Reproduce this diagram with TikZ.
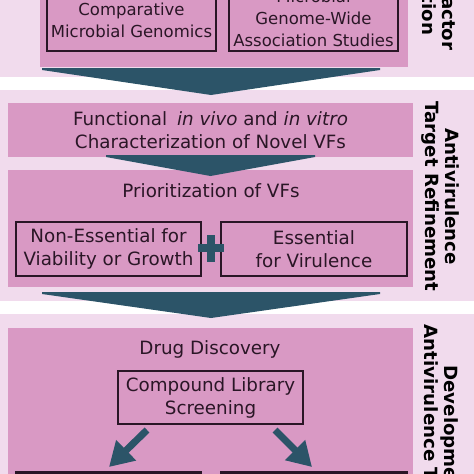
\documentclass[tikz,border=0pt]{standalone}
\usepackage{fontspec}
\setmainfont{DejaVu Sans}
\usepackage{tikz}
\usetikzlibrary{arrows.meta}
\definecolor{bgpink}{RGB}{241,219,237}
\definecolor{boxpink}{RGB}{217,153,196}
\definecolor{darkteal}{RGB}{44,84,104}
\definecolor{inkdark}{RGB}{42,22,38}
\def\mainsize{\fontsize{18.3}{23}\selectfont}
\def\topsize{\fontsize{16.5}{22}\selectfont}
\def\chevron(#1:#2:#3:#4){\fill[darkteal] (#1,#3) -- (#2,#3) -- (#2,#3+2) -- ({(#1+#2)/2},#4) -- (#1,#3+2) -- cycle;}
\tikzset{
	phase/.style={fill=bgpink, draw=none},
	panel/.style={fill=boxpink, draw=none, text=inkdark, align=center, inner sep=0pt},
	subbox/.style={draw=inkdark, line width=1.2pt, text=inkdark, align=center, inner sep=0pt},
	sidelabel/.style={rotate=-90, align=center, text=black, font=\bfseries\fontsize{18.2}{20}\selectfont},
	bigarrow/.style={darkteal, line width=7pt, -{Triangle[length=24pt,width=27pt]}}
}

\begin{document}
\begin{tikzpicture}[x=1pt, y=-1pt]
		%%%%% START %%%%%
		\useasboundingbox (0,0) rectangle (474,474);
		\clip (0,0) rectangle (474,474);
		
		\draw[phase] (0,-120) rectangle (474,77);
		\draw[phase] (0,90) rectangle (474,301);
		\draw[phase] (0,314) rectangle (474,600);
		
		% identification
		\draw[panel] (40,-120) rectangle (408,67);
		\node[subbox, minimum width=169, minimum height=62, font=\topsize] (compgen) at (131.5,20) {Comparative\\Microbial Genomics};
		\node[subbox, minimum width=169, minimum height=66, font=\topsize] (gwas) at (313.5,18) {Microbial\\Genome-Wide\\Association Studies};
		\chevron(42:380:68:95)
		
		% refinement
		\node[panel, minimum width=405, minimum height=54, font=\mainsize] (func) at (210.5,130) {Functional\hspace{10pt}\textit{in vivo} and \textit{in vitro}\\Characterization of Novel VFs};
		\draw[panel] (8,170) rectangle (413,287);
		\chevron(106:315:155:176)
		\node[text=inkdark, font=\mainsize] (prio) at (211,191) {Prioritization of VFs};
		\node[subbox, minimum width=185, minimum height=54, font=\mainsize] (noness) at (108.5,249) {Non-Essential for\\Viability or Growth};
		\node[subbox, minimum width=186, minimum height=54, font=\mainsize] (ess) at (314,249) {Essential\\for Virulence};
		\draw[darkteal, line width=8.5pt] (198,248) -- (224,248) (211,235) -- (211,262);
		\chevron(42:380:292:318)
		
		% development
		\draw[panel] (8,328) rectangle (413,600);
		\node[text=inkdark, font=\mainsize] (drug) at (210,349) {Drug Discovery};
		\node[subbox, minimum width=185, minimum height=53, font=\mainsize] (screen) at (210.5,397.5) {Compound Library\\Screening};
		\node[subbox, fill=inkdark, minimum width=185, minimum height=50] (leftout) at (108.5,497) {};
		\node[subbox, fill=inkdark, minimum width=186, minimum height=50] (rightout) at (314,497) {};
		\coordinate (l0) at (147,430);
		\coordinate (l1) at (109,467);
		\coordinate (r0) at (275,430);
		\coordinate (r1) at (312,467);
		\draw[bigarrow] (l0) -- (l1);
		\draw[bigarrow] (r0) -- (r1);
		
		% side labels
		\node[sidelabel] (vfid) at (439,-33.5) {Virulence Factor\\Identification};
		\node[sidelabel] (avtr) at (440,196.5) {Antivirulence\\Target Refinement};
		\node[sidelabel] (avdev) at (440,447) {Development of\\Antivirulence Therapies};
		%%%%% END %%%%%
\end{tikzpicture}
\end{document}
